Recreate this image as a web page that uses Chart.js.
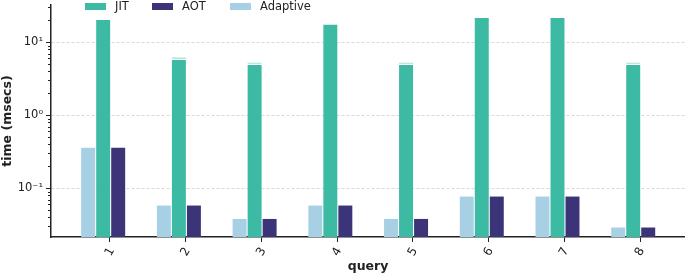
<!DOCTYPE html>
<html>
<head>
<meta charset="utf-8">
<script src="https://cdn.jsdelivr.net/npm/chart.js@4.4.1/dist/chart.umd.min.js"></script>
<style>
  body { margin: 0; background: #fff; }
  #wrap { position: relative; width: 685px; height: 274px; }
  .legend { position: absolute; top: 0; left: 0; font: 11.5px "DejaVu Sans", sans-serif; color: #222; }
  .item { position: absolute; top: -1px; white-space: nowrap; display: flex; align-items: center; }
  .box { display: inline-block; width: 21px; height: 7px; margin-right: 9px; }
</style>
</head>
<body>
<div id="wrap">
  <canvas id="chart" width="685" height="274"></canvas>
  <div class="legend">
    <div class="item" style="left:85px"><span class="box" style="background:#3dbaa4"></span>JIT</div>
    <div class="item" style="left:152px"><span class="box" style="background:#3b3478"></span>AOT</div>
    <div class="item" style="left:230px"><span class="box" style="background:#a8d0e4"></span>Adaptive</div>
  </div>
</div>
<script>
// values (log scale)
const queries = [1, 2, 3, 4, 5, 6, 7, 8];
const adaptive = [0.36, 0.058, 0.038, 0.058, 0.038, 0.077, 0.077, 0.029];
const jit = [20.2, 5.7, 4.9, 17.4, 4.9, 21.5, 21.5, 4.9];
const aot = [0.36, 0.058, 0.038, 0.058, 0.038, 0.077, 0.077, 0.029];
const jitUpper = [null, 6.2, 5.25, null, 5.25, null, null, 5.25]; // light cap on some JIT bars
const yMajor = [0.1, 1, 10];

const GROUP_SHIFT = -0.09; // bars sit slightly left of each tick
const sup = { "-1": "⁻¹", "0": "⁰", "1": "¹" };

Chart.defaults.font.family = "'DejaVu Sans', sans-serif";
Chart.defaults.color = "#222";

const isMajor = v => yMajor.some(m => Math.abs(v - m) < m * 1e-6);

function points(values) {
	return queries.map((q, i) => ({ x: q + GROUP_SHIFT, y: values[i] }));
}

// minor/major tick marks on the log axis, rotated query labels,
// and the lighter caps on some JIT bars
const extras = {
	id: "extras",
	afterDatasetsDraw(chart) {
		const ctx = chart.ctx;
		const y = chart.scales.y;
		const x = chart.scales.x;
		const meta = chart.getDatasetMeta(1);
		ctx.save();
		ctx.fillStyle = "#b7e4d9";
		meta.data.forEach((bar, i) => {
			if (jitUpper[i] == null) return;
			const top = y.getPixelForValue(jitUpper[i]);
			ctx.fillRect(bar.x - bar.width / 2, top, bar.width, bar.y - top - 1);
		});
		ctx.strokeStyle = "#222";
		ctx.lineWidth = 1;
		y.ticks.forEach(t => {
			const py = Math.round(y.getPixelForValue(t.value)) + 0.5;
			const len = isMajor(t.value) ? 5 : 3;
			ctx.beginPath();
			ctx.moveTo(y.right - len, py);
			ctx.lineTo(y.right, py);
			ctx.stroke();
		});
		ctx.fillStyle = "#222";
		ctx.font = "12px 'DejaVu Sans'";
		ctx.textAlign = "center";
		ctx.textBaseline = "middle";
		queries.forEach(q => {
			ctx.save();
			ctx.translate(x.getPixelForValue(q), x.top + 15);
			ctx.rotate(-Math.PI / 3);
			ctx.fillText(String(q), 0, 0);
			ctx.restore();
		});
		ctx.restore();
	},
};

new Chart(document.getElementById("chart"), {
	type: "bar",
	data: {
		datasets: [
			{ label: "Adaptive", data: points(adaptive), backgroundColor: "#a8d0e4" },
			{ label: "JIT", data: points(jit), backgroundColor: "#3dbaa4" },
			{ label: "AOT", data: points(aot), backgroundColor: "#3b3478" },
		],
	},
	options: {
		responsive: false,
		animation: false,
		categoryPercentage: 0.595,
		barPercentage: 0.93,
		layout: { padding: { top: 5, right: 0, left: 0, bottom: 0 } },
		plugins: { legend: { display: false }, tooltip: { enabled: false } },
		scales: {
			x: {
				type: "linear",
				min: 0.221,
				max: 8.594,
				offset: false,
				afterBuildTicks: s => { s.ticks = queries.map(q => ({ value: q })); },
				afterFit: s => { s.height = 37; s.paddingLeft = 0; s.paddingRight = 0; },
				ticks: { display: false },
				grid: { display: true, offset: false, drawOnChartArea: false, drawTicks: true, tickLength: 5, tickColor: "#222", tickWidth: 1 },
				border: { display: true, color: "#222", width: 1.5 },
				title: { display: true, text: "query", font: { size: 12.5, weight: "bold" }, padding: { top: 0, bottom: 0 } },
			},
			y: {
				type: "logarithmic",
				min: 0.0215,
				max: 32.4,
				afterBuildTicks: s => {
					const t = [];
					for (let e = -2; e <= 1; e++) {
						for (let m = 1; m <= 9; m++) {
							const v = m * Math.pow(10, e);
							if (v >= s.min && v <= s.max) t.push({ value: v });
						}
					}
					s.ticks = t;
				},
				afterFit: s => { s.width = 51; s.paddingTop = 0; s.paddingBottom = 0; },
				ticks: {
					autoSkip: false,
					padding: 8,
					font: { size: 11.5, lineHeight: 1 },
					callback: v => isMajor(v) ? "10" + sup[String(Math.round(Math.log10(v)))] : "",
				},
				grid: {
					drawTicks: false,
					color: c => (c.tick && isMajor(c.tick.value) ? "#cfcfcf" : "rgba(0,0,0,0)"),
					lineWidth: 0.8,
				},
				border: { display: true, color: "#222", width: 1.5, dash: [3, 2] },
				title: { display: true, text: "time (msecs)", font: { size: 12.5, weight: "bold" }, padding: { top: 0, bottom: 0 } },
			},
		},
	},
	plugins: [extras],
});
</script>
</body>
</html>
